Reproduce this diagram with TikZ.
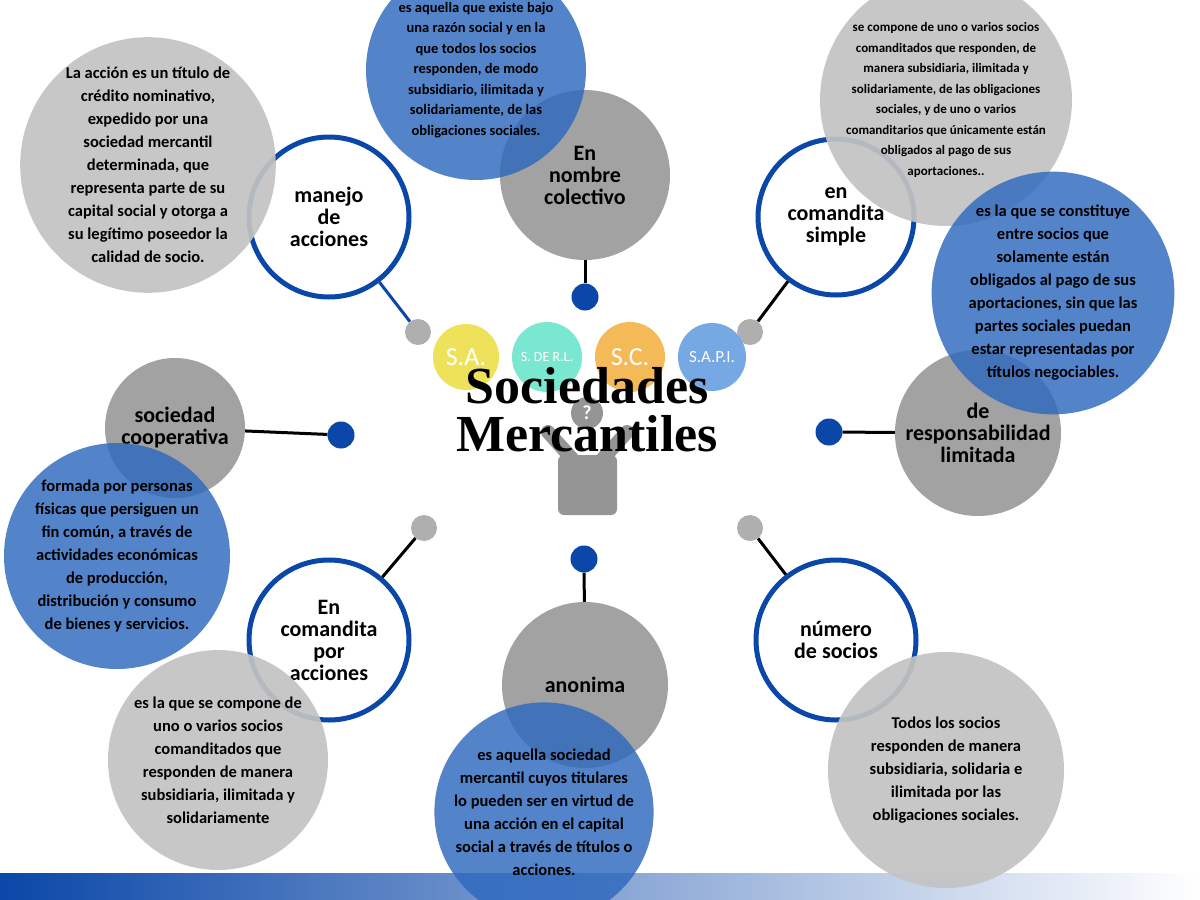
\documentclass[tikz,border=0pt]{standalone}
\usepackage{fontspec}
\setmainfont{Carlito}
\newfontfamily\titlefont{Liberation Serif}
\usetikzlibrary{shadings}
\definecolor{dblue}{HTML}{0A47A8}
\definecolor{tblue}{HTML}{2E68BE}
\definecolor{lgrey}{HTML}{C3C3C3}
\definecolor{mgrey}{HTML}{A2A2A2}
\definecolor{dotgrey}{HTML}{AFAFAF}
\begin{document}
\begin{tikzpicture}[x=1pt,y=-1pt,
  topicw/.style={circle,draw=dblue,line width=5pt,fill=white,inner sep=0pt,align=center,font=\bfseries\fontsize{22}{22}\selectfont},
  topicg/.style={circle,fill=mgrey,inner sep=0pt,align=center,font=\bfseries\fontsize{22}{22}\selectfont},
  descg/.style={circle,fill=lgrey,fill opacity=0.92,text opacity=1,inner sep=0pt,align=center,font=\bfseries\fontsize{16.5}{23}\selectfont},
  descb/.style={circle,fill=tblue,fill opacity=0.82,text opacity=1,inner sep=0pt,align=center,font=\bfseries\fontsize{16.5}{23}\selectfont},
  gdot/.style={circle,fill=dotgrey,minimum size=26pt,inner sep=0pt},
  bdot/.style={circle,fill=dblue,minimum size=27pt,inner sep=0pt},
  conn/.style={line width=3pt,black},
  ball/.style={circle,inner sep=0pt,text=white,font=\fontsize{26}{26}\selectfont}]
\useasboundingbox (0,0) rectangle (1200,900);
\fill[white] (0,0) rectangle (1200,900);
\shade[left color=dblue,right color=white] (0,873) rectangle (1200,900);
% dots
\node[gdot] (g1) at (418,332) {};
\node[gdot] (g2) at (750,332) {};
\node[gdot] (g3) at (424,528) {};
\node[gdot] (g4) at (750,528) {};
\node[bdot] (b1) at (585,297) {};
\node[bdot] (b2) at (341,435) {};
\node[bdot] (b3) at (829,432) {};
\node[bdot] (b4) at (584,559) {};
% topic circles
\node[topicw,minimum size=160pt] (t1) at (329,217) {manejo\\de\\acciones};
\node[topicw,minimum size=156pt] (t2) at (836,217) {en\\comandita\\simple};
\node[topicw,minimum size=160pt] (t3) at (329,640) {En\\comandita\\por\\acciones};
\node[topicw,minimum size=160pt] (t4) at (836,640) {número\\de socios};
\node[topicg,minimum size=170pt] (t5) at (585,175) {En\\nombre\\colectivo};
\node[topicg,minimum size=140pt] (t6) at (175,428) {sociedad\\cooperativa};
\node[topicg,minimum size=166pt] (t7) at (978,433) {de\\responsabilidad\\limitada};
\node[topicg,minimum size=166pt] (t8) at (585,685) {anonima};
% connectors
\draw[line width=3pt,dblue] (g1) -- (t1);
\draw[conn] (g2) -- (t2);
\draw[conn] (g3) -- (t3);
\draw[conn] (g4) -- (t4);
\draw[conn] (b1) -- (t5);
\draw[conn] (b2) -- (t6);
\draw[conn] (b3) -- (t7);
\draw[conn] (b4) -- (t8);
% descriptions
\node[descg,minimum size=244pt] (d1) at (148,165) {La acción es un título de\\crédito nominativo,\\expedido por una\\sociedad mercantil\\determinada, que\\representa parte de su\\capital social y otorga a\\su legítimo poseedor la\\calidad de socio.};
\node[descg,minimum size=236pt,font=\bfseries\fontsize{13}{20.5}\selectfont] (d2) at (946,100) {se compone de uno o varios socios\\comanditados que responden, de\\manera subsidiaria, ilimitada y\\solidariamente, de las obligaciones\\sociales, y de uno o varios\\comanditarios que únicamente están\\obligados al pago de sus\\aportaciones..};
\node[descg,minimum size=220pt] (d3) at (218,760) {es la que se compone de\\uno o varios socios\\comanditados que\\responden de manera\\subsidiaria, ilimitada y\\solidariamente};
\node[descg,minimum size=236pt] (d4) at (946,770) {Todos los socios\\responden de manera\\subsidiaria, solidaria e\\ilimitada por las\\obligaciones sociales.};
\node[descb,minimum size=220pt,font=\bfseries\fontsize{14.5}{20.5}\selectfont] (d5) at (476,70) {es aquella que existe bajo\\una razón social y en la\\que todos los socios\\responden, de modo\\subsidiario, ilimitada y\\solidariamente, de las\\obligaciones sociales.};
\node[descb,minimum size=226pt] (d6) at (1053,293) {es la que se constituye\\entre socios que\\solamente están\\obligados al pago de sus\\aportaciones, sin que las\\partes sociales puedan\\estar representadas por\\títulos negociables.};
\node[descb,minimum size=226pt] (d7) at (117,556) {formada por personas\\físicas que persiguen un\\fin común, a través de\\actividades económicas\\de producción,\\distribución y consumo\\de bienes y servicios.};
\node[descb,minimum size=200pt] (d8) at (544,812) {es aquella sociedad\\mercantil cuyos titulares\\lo pueden ser en virtud de\\una acción en el capital\\social a través de títulos o\\acciones.};
% center
\draw[dotgrey!85!black,line width=14pt,line cap=round] (575,462) -- (548,432);
\draw[dotgrey!85!black,line width=14pt,line cap=round] (600,462) -- (627,432);
\fill[dotgrey!85!black,rounded corners=6pt] (558,455) rectangle (617,515);
\node[circle,fill=dotgrey!85!black,minimum size=32pt,text=white,font=\bfseries\fontsize{20}{20}\selectfont] (head) at (587,413) {?};
\node[ball,fill={rgb,255:red,238;green,226;blue,90},minimum size=66pt] (sa) at (466,357) {S.A.};
\node[ball,fill={rgb,255:red,122;green,232;blue,208},minimum size=70pt,font=\fontsize{14}{14}\selectfont] (srl) at (547,357) {S. DE R.L.};
\node[ball,fill={rgb,255:red,244;green,186;blue,88},minimum size=70pt] (sc) at (630,357) {S.C.};
\node[ball,fill={rgb,255:red,118;green,168;blue,228},minimum size=68pt,font=\fontsize{17}{17}\selectfont] (sapi) at (712,357) {S.A.P.I.};
\node[align=center,font=\titlefont\bfseries\fontsize{52}{48}\selectfont] (title) at (587,410) {Sociedades\\Mercantiles};
\end{tikzpicture}
\end{document}
